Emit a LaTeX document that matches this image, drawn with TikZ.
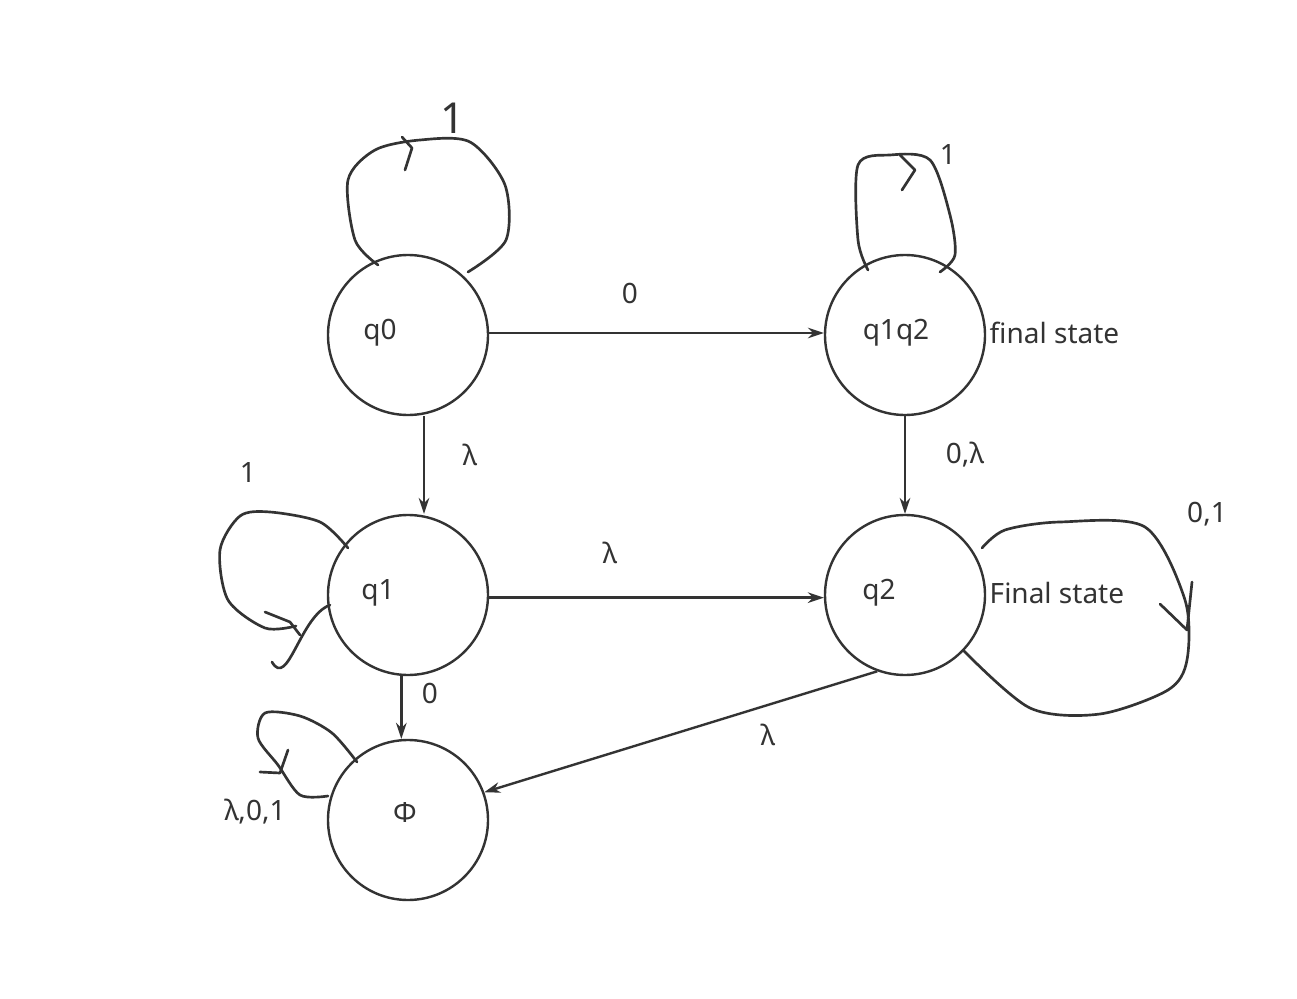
\documentclass[tikz,border=0pt]{standalone}
\usepackage{fontspec}
\setmainfont{Noto Sans}
\usetikzlibrary{arrows.meta}
\definecolor{ink}{HTML}{333333}
\begin{document}
\begin{tikzpicture}[x=0.75pt,y=-0.75pt,
  st/.style={circle,draw=ink,line width=1.8pt,minimum size=120pt,inner sep=0pt},
  ed/.style={draw=ink,line width=1.8pt,-{Stealth[length=12pt,width=8pt]}},
  lp/.style={draw=ink,line width=2pt,line cap=round,line join=round},
  lb/.style={font=\fontsize{21}{23}\selectfont,text=ink}]
\useasboundingbox (0,0) rectangle (1297,999);
\node[st] (q0) at (408,335) {};
\node[st] (q12) at (905,335) {};
\node[st] (q1) at (408,595) {};
\node[st] (q2) at (905,595) {};
\node[st] (phi) at (408,820) {};
\node[lb] (t0) at (380,333) {q0};
\node[lb] (t12) at (896,333) {q1q2};
\node[lb] (t1) at (378,593) {q1};
\node[lb] (t2) at (879,593) {q2};
\node[lb] (tp) at (405,812) {Φ};
\coordinate (a1) at (820,333);
\draw[ed] (q0.east |- a1) -- (q12.west |- a1);
\node[lb] at (630,293) {0};
\draw[ed] ([xshift=12pt]q0.south) -- ([xshift=12pt]q1.north);
\node[lb] at (470,455) {λ};
\draw[ed] (q12.south) -- (q2.north);
\node[lb] at (965,455) {0,λ};
\draw[ed] ([yshift=-2pt]q1.east) -- ([yshift=-2pt]q2.west);
\node[lb] at (610,553) {λ};
\draw[ed] ([xshift=-5pt]q1.south) -- ([xshift=-5pt]phi.north);
\node[lb] at (430,693) {0};
\draw[ed] (q2.250) -- (phi.20);
\node[lb] at (768,735) {λ};
\node[lb,anchor=west] at (985,333) {final state};
\node[lb,anchor=west] at (985,593) {Final state};
% loops
\draw[lp] plot[smooth] coordinates {(378,265) (355,240) (348,180) (375,150) (420,140) (470,142) (505,185) (506,240) (468,272)};
\draw[lp] (405,170) -- (412,148) -- (402,137);
\node[font=\fontsize{32}{34}\selectfont,text=ink] at (453,118) {1};
\draw[lp] plot[smooth] coordinates {(868,270) (858,240) (858,165) (890,155) (930,160) (950,215) (955,255) (940,272)};
\draw[lp] (902,190) -- (915,170) -- (900,155);
\node[lb] at (948,155) {1};
\draw[lp] plot[smooth] coordinates {(348,548) (320,522) (270,512) (240,516) (220,550) (228,600) (265,628) (296,626)};
\draw[lp] (272,662) to[out=-60,in=200] (330,605);
\draw[lp] (265,612) -- (290,622) -- (300,635);
\node[lb] at (248,473) {1};
\draw[lp] plot[smooth] coordinates {(982,548) (1005,530) (1060,522) (1145,527) (1185,600) (1187,660) (1168,690) (1100,714) (1030,708) (963,650)};
\draw[lp] (1160,604) -- (1187,630) -- (1192,582);
\node[lb] at (1207,514) {0,1};
\draw[lp] plot[smooth] coordinates {(328,796) (300,795) (278,765) (258,738) (265,713) (300,716) (332,733) (357,762)};
\draw[lp] (260,772) -- (280,773) -- (288,750);
\node[lb] at (255,812) {λ,0,1};
\end{tikzpicture}
\end{document}
